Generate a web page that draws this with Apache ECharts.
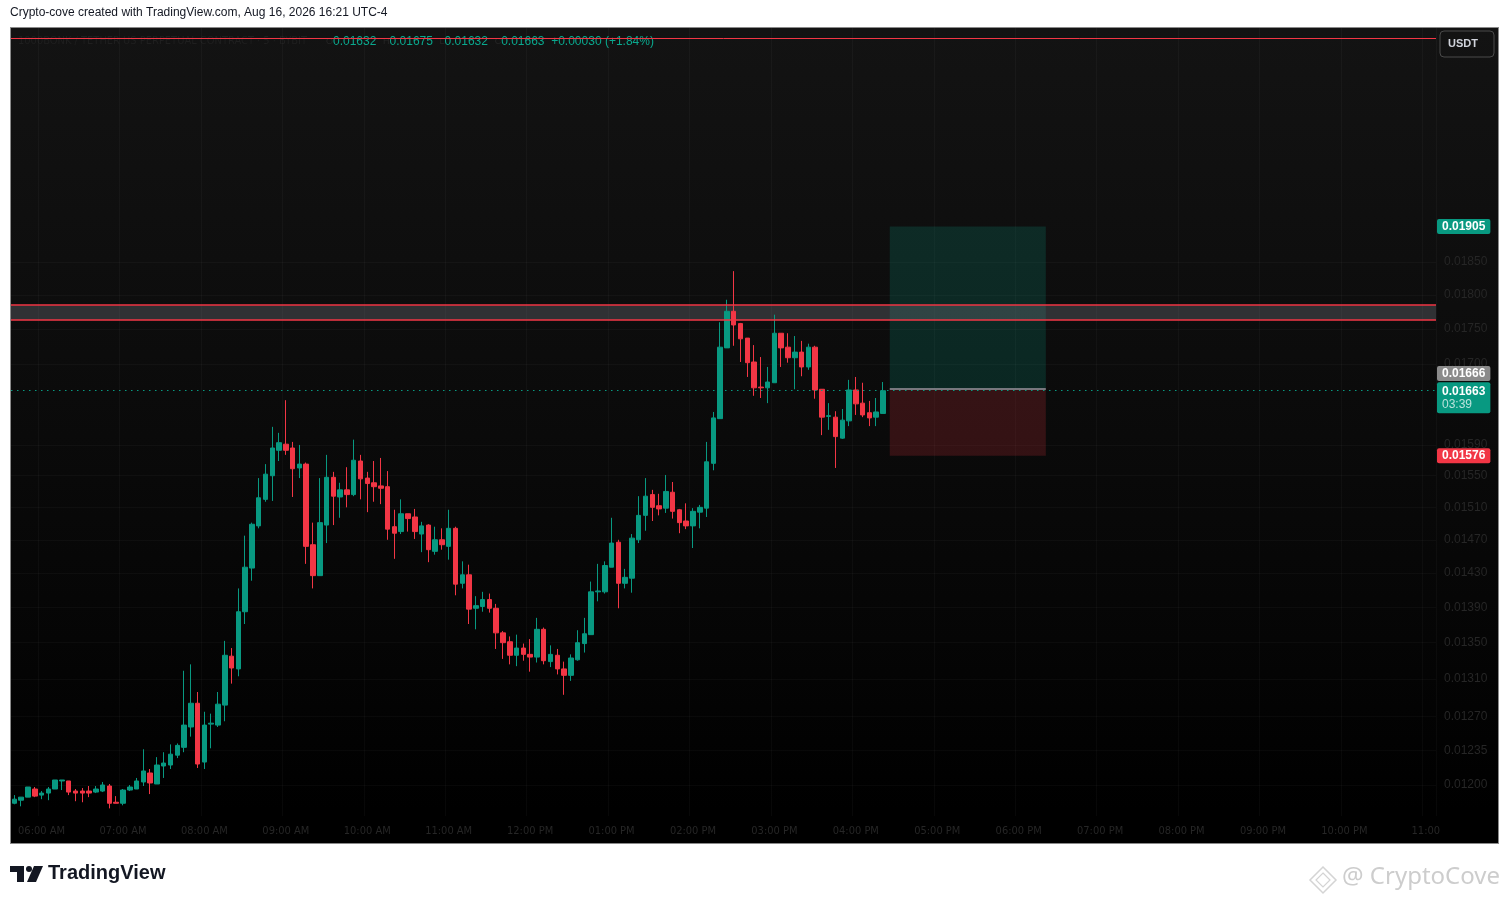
<!DOCTYPE html>
<html>
<head>
<meta charset="utf-8">
<title>1000BONK 5m</title>
<script src="https://cdn.jsdelivr.net/npm/echarts@6/dist/echarts.min.js"></script>
<style>
  html, body { margin: 0; padding: 0; background: #fff; }
  #panel {
    position: absolute; left: 10px; top: 27px; width: 1489px; height: 817px;
    box-sizing: border-box; border: 1px solid #8a8a8a;
    background: linear-gradient(to bottom, #131313 0%, #0c0c0c 40%, #050505 75%, #000 96%);
  }
  #chart { position: absolute; left: 0; top: 0; width: 1508px; height: 904px; }
</style>
</head>
<body>
<div id="panel"></div>
<div id="chart"></div>
<script>
// --- data ---

// 5 minute slots, first candle 05:40, axis runs on to 23:05
var startMinute = 5 * 60 + 40;
var slotCount = 210;

// hour tick labels (06:00 .. 23:00)
var hourLabels = ['06:00 AM', '07:00 AM', '08:00 AM', '09:00 AM', '10:00 AM', '11:00 AM',
  '12:00 PM', '01:00 PM', '02:00 PM', '03:00 PM', '04:00 PM', '05:00 PM', '06:00 PM',
  '07:00 PM', '08:00 PM', '09:00 PM', '10:00 PM', '11:00'];

// price scale labels that can be seen
var priceTicks = [0.01200, 0.01235, 0.01270, 0.01310, 0.01350, 0.01390, 0.01430, 0.01470,
  0.01510, 0.01550, 0.01590, 0.01700, 0.01750, 0.01800, 0.01850];

// candles: [open, close, low, high]
var ohlc = [
  [0.01182, 0.01186, 0.01181, 0.01190], [0.01185, 0.01188, 0.01179, 0.01188],
  [0.01188, 0.01198, 0.01188, 0.01198], [0.01196, 0.01189, 0.01188, 0.01198],
  [0.01190, 0.01192, 0.01186, 0.01194], [0.01192, 0.01196, 0.01185, 0.01198],
  [0.01196, 0.01205, 0.01196, 0.01205], [0.01204, 0.01205, 0.01195, 0.01205],
  [0.01204, 0.01193, 0.01190, 0.01204], [0.01194, 0.01192, 0.01184, 0.01196],
  [0.01194, 0.01192, 0.01183, 0.01197], [0.01194, 0.01192, 0.01188, 0.01199],
  [0.01193, 0.01196, 0.01192, 0.01199], [0.01194, 0.01200, 0.01193, 0.01203],
  [0.01199, 0.01182, 0.01177, 0.01201], [0.01183, 0.01182, 0.01182, 0.01189],
  [0.01182, 0.01195, 0.01180, 0.01196], [0.01195, 0.01198, 0.01194, 0.01200],
  [0.01196, 0.01204, 0.01196, 0.01207], [0.01203, 0.01214, 0.01199, 0.01236],
  [0.01212, 0.01202, 0.01191, 0.01216], [0.01201, 0.01220, 0.01201, 0.01228],
  [0.01219, 0.01222, 0.01207, 0.01233], [0.01220, 0.01231, 0.01216, 0.01241],
  [0.01230, 0.01240, 0.01227, 0.01242], [0.01238, 0.01261, 0.01233, 0.01319],
  [0.01259, 0.01284, 0.01249, 0.01326], [0.01284, 0.01221, 0.01217, 0.01296],
  [0.01223, 0.01261, 0.01216, 0.01275], [0.01262, 0.01263, 0.01237, 0.01273],
  [0.01261, 0.01283, 0.01259, 0.01296], [0.01282, 0.01336, 0.01265, 0.01352],
  [0.01335, 0.01322, 0.01305, 0.01344], [0.01321, 0.01385, 0.01313, 0.01412],
  [0.01385, 0.01437, 0.01371, 0.01475], [0.01436, 0.01489, 0.01421, 0.01491],
  [0.01487, 0.01522, 0.01484, 0.01547], [0.01520, 0.01552, 0.01517, 0.01565],
  [0.01550, 0.01586, 0.01518, 0.01614], [0.01583, 0.01593, 0.01569, 0.01606],
  [0.01591, 0.01583, 0.01577, 0.01650], [0.01586, 0.01559, 0.01523, 0.01594],
  [0.01560, 0.01565, 0.01547, 0.01590], [0.01565, 0.01462, 0.01441, 0.01567],
  [0.01464, 0.01427, 0.01412, 0.01491], [0.01427, 0.01491, 0.01427, 0.01547],
  [0.01488, 0.01548, 0.01466, 0.01577], [0.01548, 0.01524, 0.01488, 0.01555],
  [0.01523, 0.01532, 0.01497, 0.01541], [0.01532, 0.01526, 0.01510, 0.01561],
  [0.01526, 0.01570, 0.01524, 0.01597], [0.01569, 0.01546, 0.01520, 0.01577],
  [0.01547, 0.01540, 0.01504, 0.01555], [0.01541, 0.01536, 0.01517, 0.01569],
  [0.01537, 0.01534, 0.01514, 0.01573], [0.01536, 0.01483, 0.01470, 0.01556],
  [0.01486, 0.01478, 0.01447, 0.01507], [0.01480, 0.01502, 0.01477, 0.01520],
  [0.01502, 0.01496, 0.01480, 0.01502], [0.01498, 0.01480, 0.01471, 0.01508],
  [0.01477, 0.01487, 0.01455, 0.01492], [0.01488, 0.01458, 0.01443, 0.01489],
  [0.01456, 0.01470, 0.01452, 0.01486], [0.01470, 0.01464, 0.01458, 0.01484],
  [0.01462, 0.01484, 0.01446, 0.01507], [0.01484, 0.01417, 0.01404, 0.01486],
  [0.01418, 0.01428, 0.01412, 0.01444], [0.01428, 0.01388, 0.01371, 0.01440],
  [0.01389, 0.01392, 0.01365, 0.01403], [0.01391, 0.01399, 0.01385, 0.01408],
  [0.01399, 0.01389, 0.01384, 0.01406], [0.01389, 0.01361, 0.01343, 0.01394],
  [0.01361, 0.01350, 0.01332, 0.01363], [0.01351, 0.01336, 0.01326, 0.01357],
  [0.01336, 0.01344, 0.01324, 0.01359], [0.01344, 0.01337, 0.01330, 0.01349],
  [0.01337, 0.01334, 0.01318, 0.01354], [0.01334, 0.01365, 0.01328, 0.01378],
  [0.01365, 0.01330, 0.01326, 0.01367], [0.01329, 0.01337, 0.01323, 0.01347],
  [0.01336, 0.01321, 0.01315, 0.01343], [0.01321, 0.01314, 0.01293, 0.01329],
  [0.01314, 0.01333, 0.01308, 0.01337], [0.01331, 0.01350, 0.01330, 0.01364],
  [0.01349, 0.01360, 0.01339, 0.01378], [0.01359, 0.01408, 0.01359, 0.01420],
  [0.01408, 0.01409, 0.01397, 0.01441], [0.01408, 0.01439, 0.01406, 0.01444],
  [0.01437, 0.01466, 0.01437, 0.01497], [0.01467, 0.01418, 0.01389, 0.01470],
  [0.01418, 0.01425, 0.01412, 0.01435], [0.01424, 0.01472, 0.01407, 0.01477],
  [0.01470, 0.01500, 0.01466, 0.01524], [0.01500, 0.01524, 0.01481, 0.01547],
  [0.01526, 0.01510, 0.01493, 0.01532], [0.01512, 0.01508, 0.01500, 0.01527],
  [0.01509, 0.01530, 0.01503, 0.01551], [0.01529, 0.01505, 0.01496, 0.01542],
  [0.01507, 0.01491, 0.01478, 0.01508], [0.01493, 0.01487, 0.01483, 0.01515],
  [0.01487, 0.01505, 0.01460, 0.01509], [0.01504, 0.01510, 0.01484, 0.01513],
  [0.01509, 0.01568, 0.01498, 0.01594], [0.01566, 0.01626, 0.01557, 0.01634],
  [0.01625, 0.01724, 0.01625, 0.01760], [0.01723, 0.01776, 0.01723, 0.01793],
  [0.01776, 0.01756, 0.01726, 0.01836], [0.01758, 0.01736, 0.01703, 0.01759],
  [0.01737, 0.01702, 0.01682, 0.01737], [0.01703, 0.01667, 0.01656, 0.01727],
  [0.01668, 0.01667, 0.01653, 0.01710], [0.01667, 0.01675, 0.01646, 0.01696],
  [0.01674, 0.01744, 0.01674, 0.01771], [0.01744, 0.01723, 0.01696, 0.01744],
  [0.01724, 0.01709, 0.01702, 0.01744], [0.01709, 0.01717, 0.01665, 0.01740],
  [0.01717, 0.01696, 0.01683, 0.01733], [0.01696, 0.01724, 0.01692, 0.01729],
  [0.01724, 0.01664, 0.01652, 0.01726], [0.01665, 0.01627, 0.01603, 0.01665],
  [0.01628, 0.01629, 0.01610, 0.01646], [0.01627, 0.01601, 0.01560, 0.01635],
  [0.01599, 0.01623, 0.01598, 0.01638], [0.01622, 0.01664, 0.01615, 0.01678],
  [0.01664, 0.01645, 0.01630, 0.01682], [0.01646, 0.01630, 0.01627, 0.01674],
  [0.01633, 0.01626, 0.01615, 0.01649], [0.01627, 0.01634, 0.01615, 0.01653],
  [0.01632, 0.01663, 0.01632, 0.01675]
];

// drawn levels
var topLine = 0.02227;      // red line at the very top
var zoneHigh = 0.01785;     // grey resistance band
var zoneLow = 0.01763;
var targetPrice = 0.01905;  // long position tool
var entryPrice = 0.01666;
var stopPrice = 0.01576;
var lastPrice = 0.01663;
var countdown = '03:39';
var posStart = '16:25', posEnd = '18:20';

// visible price range of the pane (log scale)
var axisMin = 0.011696, axisMax = 0.022452;

var GREEN = '#089981', RED = '#f23645';
var FONT = 'Liberation Sans, Arial, sans-serif';

// --- helpers ---
function pad(n) { return (n < 10 ? '0' : '') + n; }
// the price pane is logarithmic: work on log10 of prices
function lg(v) { return Math.log10(v); }
function unlg(v) { return Math.pow(10, v); }

var categories = [];
for (var k = 0; k < slotCount; k++) {
  var m = startMinute + k * 5;
  categories.push(pad(Math.floor(m / 60)) + ':' + pad(m % 60));
}
function isHour(index, value) { return value.slice(3) === '00'; }

// right side price tags (line itself invisible)
function tag(price, bg, offsetY) {
  return {
    yAxis: lg(price),
    lineStyle: { color: 'rgba(0,0,0,0)', width: 0 },
    label: {
      show: true, position: 'end', distance: 1,
      formatter: price.toFixed(5),
      backgroundColor: bg, color: '#fff', fontWeight: 'bold', fontSize: 12,
      fontFamily: FONT, lineHeight: 12, padding: [2, 5, 1, 5], borderRadius: 2,
      offset: [0, offsetY || 0], opacity: 1
    }
  };
}
function hline(price, color, width, type) {
  return { yAxis: lg(price), lineStyle: { color: color, width: width, type: type || 'solid' } };
}

var chart = echarts.init(document.getElementById('chart'), null, { renderer: 'canvas' });

chart.setOption({
  animation: false,
  backgroundColor: 'transparent',
  grid: { left: 11, right: 72, top: 28, bottom: 88 },
  xAxis: {
    type: 'category',
    data: categories,
    boundaryGap: true,
    axisLine: { show: false },
    axisTick: { show: false },
    axisLabel: {
      interval: isHour,
      formatter: function (v) { return hourLabels[parseInt(v, 10) - 6]; },
      color: '#262626', fontSize: 11, margin: 10,
      fontFamily: '"Liberation Sans Narrow", "DejaVu Sans Condensed", sans-serif'
    },
    splitLine: { show: true, interval: isHour, lineStyle: { color: 'rgba(255,255,255,0.03)' } }
  },
  yAxis: {
    type: 'value',
    min: lg(axisMin),
    max: lg(axisMax),
    position: 'right',
    axisLine: { show: false },
    axisTick: { show: false, customValues: priceTicks.map(lg) },
    axisLabel: {
      customValues: priceTicks.map(lg),
      formatter: function (v) { return unlg(v).toFixed(5); },
      color: '#262626', fontSize: 12, margin: 8, fontFamily: FONT
    },
    splitLine: { show: true, lineStyle: { color: 'rgba(255,255,255,0.03)' } }
  },
  series: [
    {
      // drawings: kept behind the candles
      type: 'line', data: [], z: 1, silent: true,
      markArea: {
        silent: true,
        data: [
          [{ xAxis: posStart, yAxis: lg(targetPrice), itemStyle: { color: 'rgba(8,153,129,0.2)' } },
           { xAxis: posEnd, yAxis: lg(entryPrice) }],
          [{ xAxis: posStart, yAxis: lg(entryPrice), itemStyle: { color: 'rgba(242,54,69,0.18)' } },
           { xAxis: posEnd, yAxis: lg(stopPrice) }],
          [{ yAxis: lg(zoneHigh), itemStyle: { color: 'rgba(120,123,134,0.33)' } },
           { yAxis: lg(zoneLow) }]
        ]
      },
      markLine: {
        silent: true,
        precision: 10,
        symbol: ['none', 'none'],
        label: { show: false },
        data: [
          hline(topLine, RED, 1),
          hline(zoneHigh, RED, 1.5),
          hline(zoneLow, RED, 1.5),
          [{ coord: [posStart, lg(entryPrice)], lineStyle: { color: '#9598a1', width: 1.5, type: 'solid' } },
           { coord: [posEnd, lg(entryPrice)] }],
          {
            yAxis: lg(lastPrice),
            lineStyle: { color: GREEN, width: 1.2, type: [1.5, 4.5] },
            label: {
              show: true, position: 'end', distance: 1,
              formatter: '{a|' + lastPrice.toFixed(5) + '}\n{b|' + countdown + '}',
              backgroundColor: GREEN, padding: [3, 5, 2, 5], borderRadius: 2,
              offset: [0, 7],
              rich: {
                a: { color: '#fff', fontWeight: 'bold', fontSize: 12, lineHeight: 13, fontFamily: FONT },
                b: { color: 'rgba(255,255,255,0.72)', fontSize: 12, lineHeight: 13, fontFamily: FONT }
              }
            }
          },
          tag(targetPrice, GREEN),
          tag(entryPrice, '#8b8b8b', -15),
          tag(stopPrice, RED)
        ]
      }
    },
    {
      type: 'candlestick',
      z: 3,
      data: ohlc.map(function (c) { return c.map(lg); }),
      barWidth: 5,
      itemStyle: {
        color: GREEN, color0: RED,
        borderColor: GREEN, borderColor0: RED, borderColorDoji: GREEN,
        borderWidth: 1
      }
    }
  ],
  graphic: [
    // header
    { type: 'text', left: 10, top: 7,
      style: { text: 'Crypto-cove created with TradingView.com, Aug 16, 2026 16:21 UTC-4',
               fill: '#131722', fontSize: 12, fontFamily: FONT } },
    // symbol legend (almost invisible on the dark pane)
    { type: 'text', left: 18, top: 36,
      style: { text: '1000BONK / TETHER US PERPETUAL CONTRACT · 5 · BYBIT',
               fill: '#1f1f1f', fontSize: 11,
               fontFamily: '"Liberation Sans Narrow", "DejaVu Sans Condensed", sans-serif' } },
    { type: 'text', left: 326, top: 36,
      style: {
        text: '{k|O}{v|0.01632}  {k|H}{v|0.01675}  {k|L}{v|0.01632}  {k|C}{v|0.01663}  {v|+0.00030 (+1.84%)}',
        fontSize: 12, fontFamily: FONT,
        rich: { k: { fill: '#262626', fontSize: 9 }, v: { fill: '#0aa88e', fontSize: 12 } }
      } },
    // USDT button
    { type: 'rect', shape: { x: 1440, y: 31, width: 54, height: 26, r: 4 },
      style: { fill: 'transparent', stroke: '#4a4a4a', lineWidth: 1 } },
    { type: 'text', x: 1463, y: 44,
      style: { text: 'USDT', fill: '#d1d4dc', fontSize: 11, fontWeight: 'bold', align: 'center',
               verticalAlign: 'middle', fontFamily: FONT } },
    // TradingView logo
    { type: 'polygon', shape: { points: [[10, 866], [24, 866], [24, 882], [17, 882], [17, 872], [10, 872]] },
      style: { fill: '#131722' } },
    { type: 'circle', shape: { cx: 29, cy: 869, r: 3 }, style: { fill: '#131722' } },
    { type: 'polygon', shape: { points: [[34, 866], [43, 866], [36, 882], [27, 882]] },
      style: { fill: '#131722' } },
    { type: 'text', left: 48, top: 863,
      style: { text: 'TradingView', fill: '#131722', fontSize: 20, fontWeight: 'bold', fontFamily: FONT } },
    // watermark
    { type: 'polygon', shape: { points: [[1323, 867], [1336, 880], [1323, 893], [1310, 880]] },
      style: { fill: 'transparent', stroke: '#d4d4d4', lineWidth: 1.5 } },
    { type: 'polygon', shape: { points: [[1323, 873], [1330, 880], [1323, 887], [1316, 880]] },
      style: { fill: 'transparent', stroke: '#d4d4d4', lineWidth: 1.2 } },
    { type: 'text', left: 1342, top: 865,
      style: { text: '@ CryptoCove', fill: '#cdcdcd', fontSize: 24,
               fontFamily: '"Noto Sans", "Open Sans", sans-serif' } }
  ]
});
</script>
</body>
</html>
